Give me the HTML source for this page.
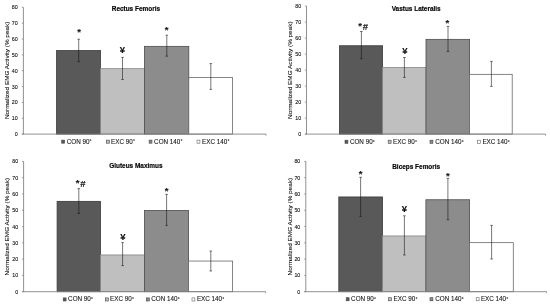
<!DOCTYPE html><html><head><meta charset="utf-8"><title>Normalized EMG Activity</title>
<style>html,body{margin:0;padding:0;background:#fff}svg{display:block;filter:blur(0.3px)}text{font-family:"Liberation Sans", Arial, sans-serif;fill:#111;stroke:#111;stroke-width:0.1px}</style></head><body>
<svg width="550" height="306" viewBox="0 0 550 306">
<rect width="550" height="306" fill="#fff"/>
<g>
<rect x="56.60" y="50.55" width="43.90" height="83.55" fill="#595959" stroke="#3a3a3a" stroke-width="0.8"/>
<rect x="100.50" y="68.65" width="43.90" height="65.45" fill="#bfbfbf" stroke="#858585" stroke-width="0.8"/>
<rect x="144.40" y="46.35" width="44.40" height="87.75" fill="#8c8c8c" stroke="#4d4d4d" stroke-width="0.8"/>
<rect x="188.80" y="77.45" width="43.70" height="56.65" fill="#ffffff" stroke="#686868" stroke-width="0.8"/>
<path d="M78.70 39.20V61.70M77.40 39.20h2.6M77.40 61.70h2.6" stroke="#151515" stroke-width="0.58" fill="none"/>
<path d="M122.50 57.40V79.50M121.20 57.40h2.6M121.20 79.50h2.6" stroke="#151515" stroke-width="0.58" fill="none"/>
<path d="M166.80 35.20V56.20M165.50 35.20h2.6M165.50 56.20h2.6" stroke="#151515" stroke-width="0.58" fill="none"/>
<path d="M210.80 63.60V89.40M209.50 63.60h2.6M209.50 89.40h2.6" stroke="#151515" stroke-width="0.58" fill="none"/>
<path d="M23.40 7.30V134.10M21.80 134.10H266.00" stroke="#858585" stroke-width="0.9" fill="none"/>
<path d="M21.80 134.10h1.6M21.80 118.25h1.6M21.80 102.40h1.6M21.80 86.55h1.6M21.80 70.70h1.6M21.80 54.85h1.6M21.80 39.00h1.6M21.80 23.15h1.6M21.80 7.30h1.6M266.00 134.10v1.6" stroke="#858585" stroke-width="0.8" fill="none"/>
<text transform="translate(17.70 136.15) scale(0.860 1)" font-size="6.20" text-anchor="end">0</text>
<text transform="translate(17.70 120.30) scale(0.860 1)" font-size="6.20" text-anchor="end">10</text>
<text transform="translate(17.70 104.45) scale(0.860 1)" font-size="6.20" text-anchor="end">20</text>
<text transform="translate(17.70 88.60) scale(0.860 1)" font-size="6.20" text-anchor="end">30</text>
<text transform="translate(17.70 72.75) scale(0.860 1)" font-size="6.20" text-anchor="end">40</text>
<text transform="translate(17.70 56.90) scale(0.860 1)" font-size="6.20" text-anchor="end">50</text>
<text transform="translate(17.70 41.05) scale(0.860 1)" font-size="6.20" text-anchor="end">60</text>
<text transform="translate(17.70 25.20) scale(0.860 1)" font-size="6.20" text-anchor="end">70</text>
<text transform="translate(17.70 9.35) scale(0.860 1)" font-size="6.20" text-anchor="end">80</text>
<text transform="translate(8.85 70.40) rotate(-90) scale(1 0.93)" font-size="6.38" text-anchor="middle">Normalized EMG Activity (% peak)</text>
<text x="135.90" y="10.60" font-size="6.45" font-weight="bold" text-anchor="middle" style="fill:#000;stroke:#000;stroke-width:0.15">Rectus Femoris</text>
<text x="79.00" y="35.00" font-size="9.5" font-weight="bold" text-anchor="middle" style="fill:#111">*</text>
<text x="122.40" y="53.20" font-size="9.5" font-weight="bold" text-anchor="middle" style="fill:#111">¥</text>
<text x="166.60" y="33.00" font-size="9.5" font-weight="bold" text-anchor="middle" style="fill:#111">*</text>
<rect x="61.70" y="140.10" width="2.9" height="3.1" fill="#595959" stroke="#444" stroke-width="0.6"/>
<text transform="translate(66.70 143.60) scale(0.81 1)" font-size="7.80">CON 90<tspan font-size="6.2" dy="-0.2" dx="0.2">°</tspan></text>
<rect x="106.40" y="140.10" width="2.9" height="3.1" fill="#bfbfbf" stroke="#444" stroke-width="0.6"/>
<text transform="translate(111.10 143.60) scale(0.81 1)" font-size="7.80">EXC 90<tspan font-size="6.2" dy="-0.2" dx="0.2">°</tspan></text>
<rect x="149.10" y="140.10" width="2.9" height="3.1" fill="#8c8c8c" stroke="#444" stroke-width="0.6"/>
<text transform="translate(154.10 143.60) scale(0.81 1)" font-size="7.80">CON 140<tspan font-size="6.2" dy="-0.2" dx="0.2">°</tspan></text>
<rect x="197.00" y="140.10" width="2.9" height="3.1" fill="#ffffff" stroke="#666" stroke-width="0.6"/>
<text transform="translate(202.00 143.60) scale(0.81 1)" font-size="7.80">EXC 140<tspan font-size="6.2" dy="-0.2" dx="0.2">°</tspan></text>
</g>
<g>
<rect x="339.50" y="45.75" width="43.10" height="88.35" fill="#595959" stroke="#3a3a3a" stroke-width="0.8"/>
<rect x="382.60" y="67.55" width="43.40" height="66.55" fill="#bfbfbf" stroke="#858585" stroke-width="0.8"/>
<rect x="426.00" y="39.35" width="43.60" height="94.75" fill="#8c8c8c" stroke="#4d4d4d" stroke-width="0.8"/>
<rect x="469.60" y="74.35" width="42.60" height="59.75" fill="#ffffff" stroke="#686868" stroke-width="0.8"/>
<path d="M361.40 31.50V58.70M360.10 31.50h2.6M360.10 58.70h2.6" stroke="#151515" stroke-width="0.58" fill="none"/>
<path d="M404.40 57.50V77.40M403.10 57.50h2.6M403.10 77.40h2.6" stroke="#151515" stroke-width="0.58" fill="none"/>
<path d="M448.00 26.40V51.40M446.70 26.40h2.6M446.70 51.40h2.6" stroke="#151515" stroke-width="0.58" fill="none"/>
<path d="M491.40 61.40V86.40M490.10 61.40h2.6M490.10 86.40h2.6" stroke="#151515" stroke-width="0.58" fill="none"/>
<path d="M306.50 6.00V134.10M304.90 134.10H545.60" stroke="#858585" stroke-width="0.9" fill="none"/>
<path d="M304.90 134.10h1.6M304.90 118.09h1.6M304.90 102.07h1.6M304.90 86.06h1.6M304.90 70.05h1.6M304.90 54.04h1.6M304.90 38.03h1.6M304.90 22.01h1.6M304.90 6.00h1.6M545.60 134.10v1.6" stroke="#858585" stroke-width="0.8" fill="none"/>
<text transform="translate(301.10 136.15) scale(0.860 1)" font-size="6.20" text-anchor="end">0</text>
<text transform="translate(301.10 120.14) scale(0.860 1)" font-size="6.20" text-anchor="end">10</text>
<text transform="translate(301.10 104.12) scale(0.860 1)" font-size="6.20" text-anchor="end">20</text>
<text transform="translate(301.10 88.11) scale(0.860 1)" font-size="6.20" text-anchor="end">30</text>
<text transform="translate(301.10 72.10) scale(0.860 1)" font-size="6.20" text-anchor="end">40</text>
<text transform="translate(301.10 56.09) scale(0.860 1)" font-size="6.20" text-anchor="end">50</text>
<text transform="translate(301.10 40.08) scale(0.860 1)" font-size="6.20" text-anchor="end">60</text>
<text transform="translate(301.10 24.06) scale(0.860 1)" font-size="6.20" text-anchor="end">70</text>
<text transform="translate(301.10 8.05) scale(0.860 1)" font-size="6.20" text-anchor="end">80</text>
<text transform="translate(292.05 70.20) rotate(-90) scale(1 0.93)" font-size="6.38" text-anchor="middle">Normalized EMG Activity (% peak)</text>
<text x="416.20" y="10.60" font-size="6.45" font-weight="bold" text-anchor="middle" style="fill:#000;stroke:#000;stroke-width:0.15">Vastus Lateralis</text>
<text x="363.20" y="30.20" font-size="9.5" font-weight="bold" text-anchor="middle" style="fill:#111"><tspan dy="-1.4">*</tspan><tspan dy="1.4" dx="0.9">#</tspan></text>
<text x="404.90" y="53.60" font-size="9.5" font-weight="bold" text-anchor="middle" style="fill:#111">¥</text>
<text x="447.40" y="26.10" font-size="9.5" font-weight="bold" text-anchor="middle" style="fill:#111">*</text>
<rect x="345.00" y="140.20" width="2.9" height="3.1" fill="#595959" stroke="#444" stroke-width="0.6"/>
<text transform="translate(349.90 143.70) scale(0.81 1)" font-size="7.80">CON 90<tspan font-size="6.2" dy="-0.2" dx="0.2">°</tspan></text>
<rect x="388.20" y="140.20" width="2.9" height="3.1" fill="#bfbfbf" stroke="#444" stroke-width="0.6"/>
<text transform="translate(393.10 143.70) scale(0.81 1)" font-size="7.80">EXC 90<tspan font-size="6.2" dy="-0.2" dx="0.2">°</tspan></text>
<rect x="430.00" y="140.20" width="2.9" height="3.1" fill="#8c8c8c" stroke="#444" stroke-width="0.6"/>
<text transform="translate(435.30 143.70) scale(0.81 1)" font-size="7.80">CON 140<tspan font-size="6.2" dy="-0.2" dx="0.2">°</tspan></text>
<rect x="477.60" y="140.20" width="2.9" height="3.1" fill="#ffffff" stroke="#666" stroke-width="0.6"/>
<text transform="translate(482.40 143.70) scale(0.81 1)" font-size="7.80">EXC 140<tspan font-size="6.2" dy="-0.2" dx="0.2">°</tspan></text>
</g>
<g>
<rect x="57.10" y="201.35" width="43.40" height="90.35" fill="#595959" stroke="#3a3a3a" stroke-width="0.8"/>
<rect x="100.50" y="254.95" width="43.90" height="36.75" fill="#bfbfbf" stroke="#858585" stroke-width="0.8"/>
<rect x="144.40" y="210.45" width="44.20" height="81.25" fill="#8c8c8c" stroke="#4d4d4d" stroke-width="0.8"/>
<rect x="188.60" y="261.05" width="44.00" height="30.65" fill="#ffffff" stroke="#686868" stroke-width="0.8"/>
<path d="M78.80 188.60V213.40M77.50 188.60h2.6M77.50 213.40h2.6" stroke="#151515" stroke-width="0.58" fill="none"/>
<path d="M122.60 242.60V265.60M121.30 242.60h2.6M121.30 265.60h2.6" stroke="#151515" stroke-width="0.58" fill="none"/>
<path d="M166.60 194.40V225.40M165.30 194.40h2.6M165.30 225.40h2.6" stroke="#151515" stroke-width="0.58" fill="none"/>
<path d="M210.80 251.00V271.00M209.50 251.00h2.6M209.50 271.00h2.6" stroke="#151515" stroke-width="0.58" fill="none"/>
<path d="M23.60 161.40V291.70M22.00 291.70H265.60" stroke="#858585" stroke-width="0.9" fill="none"/>
<path d="M22.00 291.70h1.6M22.00 275.41h1.6M22.00 259.12h1.6M22.00 242.84h1.6M22.00 226.55h1.6M22.00 210.26h1.6M22.00 193.97h1.6M22.00 177.69h1.6M22.00 161.40h1.6M265.60 291.70v1.6" stroke="#858585" stroke-width="0.8" fill="none"/>
<text transform="translate(18.10 293.75) scale(0.860 1)" font-size="6.20" text-anchor="end">0</text>
<text transform="translate(18.10 277.46) scale(0.860 1)" font-size="6.20" text-anchor="end">10</text>
<text transform="translate(18.10 261.18) scale(0.860 1)" font-size="6.20" text-anchor="end">20</text>
<text transform="translate(18.10 244.89) scale(0.860 1)" font-size="6.20" text-anchor="end">30</text>
<text transform="translate(18.10 228.60) scale(0.860 1)" font-size="6.20" text-anchor="end">40</text>
<text transform="translate(18.10 212.31) scale(0.860 1)" font-size="6.20" text-anchor="end">50</text>
<text transform="translate(18.10 196.03) scale(0.860 1)" font-size="6.20" text-anchor="end">60</text>
<text transform="translate(18.10 179.74) scale(0.860 1)" font-size="6.20" text-anchor="end">70</text>
<text transform="translate(18.10 163.45) scale(0.860 1)" font-size="6.20" text-anchor="end">80</text>
<text transform="translate(9.05 226.70) rotate(-90) scale(1 0.93)" font-size="6.38" text-anchor="middle">Normalized EMG Activity (% peak)</text>
<text x="135.90" y="168.30" font-size="6.45" font-weight="bold" text-anchor="middle" style="fill:#000;stroke:#000;stroke-width:0.15">Gluteus Maximus</text>
<text x="80.60" y="187.00" font-size="9.5" font-weight="bold" text-anchor="middle" style="fill:#111"><tspan dy="-1.4">*</tspan><tspan dy="1.4" dx="0.9">#</tspan></text>
<text x="122.80" y="239.80" font-size="9.5" font-weight="bold" text-anchor="middle" style="fill:#111">¥</text>
<text x="166.70" y="193.70" font-size="9.5" font-weight="bold" text-anchor="middle" style="fill:#111">*</text>
<rect x="63.20" y="297.90" width="2.9" height="3.1" fill="#595959" stroke="#444" stroke-width="0.6"/>
<text transform="translate(68.10 301.40) scale(0.81 1)" font-size="7.80">CON 90<tspan font-size="6.2" dy="-0.2" dx="0.2">°</tspan></text>
<rect x="105.40" y="297.90" width="2.9" height="3.1" fill="#bfbfbf" stroke="#444" stroke-width="0.6"/>
<text transform="translate(110.10 301.40) scale(0.81 1)" font-size="7.80">EXC 90<tspan font-size="6.2" dy="-0.2" dx="0.2">°</tspan></text>
<rect x="146.40" y="297.90" width="2.9" height="3.1" fill="#8c8c8c" stroke="#444" stroke-width="0.6"/>
<text transform="translate(151.30 301.40) scale(0.81 1)" font-size="7.80">CON 140<tspan font-size="6.2" dy="-0.2" dx="0.2">°</tspan></text>
<rect x="192.00" y="297.90" width="2.9" height="3.1" fill="#ffffff" stroke="#666" stroke-width="0.6"/>
<text transform="translate(196.90 301.40) scale(0.81 1)" font-size="7.80">EXC 140<tspan font-size="6.2" dy="-0.2" dx="0.2">°</tspan></text>
</g>
<g>
<rect x="338.80" y="196.95" width="43.70" height="94.75" fill="#595959" stroke="#3a3a3a" stroke-width="0.8"/>
<rect x="382.50" y="235.95" width="43.40" height="55.75" fill="#bfbfbf" stroke="#858585" stroke-width="0.8"/>
<rect x="425.90" y="199.75" width="43.70" height="91.95" fill="#8c8c8c" stroke="#4d4d4d" stroke-width="0.8"/>
<rect x="469.60" y="242.65" width="43.70" height="49.05" fill="#ffffff" stroke="#686868" stroke-width="0.8"/>
<path d="M360.60 177.30V216.40M359.30 177.30h2.6M359.30 216.40h2.6" stroke="#151515" stroke-width="0.58" fill="none"/>
<path d="M404.40 215.80V255.00M403.10 215.80h2.6M403.10 255.00h2.6" stroke="#151515" stroke-width="0.58" fill="none"/>
<path d="M447.90 178.40V219.80M446.60 178.40h2.6M446.60 219.80h2.6" stroke="#151515" stroke-width="0.58" fill="none"/>
<path d="M491.60 225.40V259.00M490.30 225.40h2.6M490.30 259.00h2.6" stroke="#151515" stroke-width="0.58" fill="none"/>
<path d="M305.80 161.40V291.70M304.20 291.70H546.60" stroke="#858585" stroke-width="0.9" fill="none"/>
<path d="M304.20 291.70h1.6M304.20 275.41h1.6M304.20 259.12h1.6M304.20 242.84h1.6M304.20 226.55h1.6M304.20 210.26h1.6M304.20 193.97h1.6M304.20 177.69h1.6M304.20 161.40h1.6M546.60 291.70v1.6" stroke="#858585" stroke-width="0.8" fill="none"/>
<text transform="translate(300.30 293.75) scale(0.860 1)" font-size="6.20" text-anchor="end">0</text>
<text transform="translate(300.30 277.46) scale(0.860 1)" font-size="6.20" text-anchor="end">10</text>
<text transform="translate(300.30 261.18) scale(0.860 1)" font-size="6.20" text-anchor="end">20</text>
<text transform="translate(300.30 244.89) scale(0.860 1)" font-size="6.20" text-anchor="end">30</text>
<text transform="translate(300.30 228.60) scale(0.860 1)" font-size="6.20" text-anchor="end">40</text>
<text transform="translate(300.30 212.31) scale(0.860 1)" font-size="6.20" text-anchor="end">50</text>
<text transform="translate(300.30 196.03) scale(0.860 1)" font-size="6.20" text-anchor="end">60</text>
<text transform="translate(300.30 179.74) scale(0.860 1)" font-size="6.20" text-anchor="end">70</text>
<text transform="translate(300.30 163.45) scale(0.860 1)" font-size="6.20" text-anchor="end">80</text>
<text transform="translate(291.85 226.70) rotate(-90) scale(1 0.93)" font-size="6.38" text-anchor="middle">Normalized EMG Activity (% peak)</text>
<text x="416.20" y="169.00" font-size="6.45" font-weight="bold" text-anchor="middle" style="fill:#000;stroke:#000;stroke-width:0.15">Biceps Femoris</text>
<text x="360.60" y="177.10" font-size="9.5" font-weight="bold" text-anchor="middle" style="fill:#111">*</text>
<text x="404.50" y="212.30" font-size="9.5" font-weight="bold" text-anchor="middle" style="fill:#111">¥</text>
<text x="447.80" y="178.60" font-size="9.5" font-weight="bold" text-anchor="middle" style="fill:#111">*</text>
<rect x="346.20" y="297.70" width="2.9" height="3.1" fill="#595959" stroke="#444" stroke-width="0.6"/>
<text transform="translate(351.10 301.20) scale(0.81 1)" font-size="7.80">CON 90<tspan font-size="6.2" dy="-0.2" dx="0.2">°</tspan></text>
<rect x="388.60" y="297.70" width="2.9" height="3.1" fill="#bfbfbf" stroke="#444" stroke-width="0.6"/>
<text transform="translate(393.50 301.20) scale(0.81 1)" font-size="7.80">EXC 90<tspan font-size="6.2" dy="-0.2" dx="0.2">°</tspan></text>
<rect x="430.00" y="297.70" width="2.9" height="3.1" fill="#8c8c8c" stroke="#444" stroke-width="0.6"/>
<text transform="translate(435.30 301.20) scale(0.81 1)" font-size="7.80">CON 140<tspan font-size="6.2" dy="-0.2" dx="0.2">°</tspan></text>
<rect x="476.20" y="297.70" width="2.9" height="3.1" fill="#ffffff" stroke="#666" stroke-width="0.6"/>
<text transform="translate(480.90 301.20) scale(0.81 1)" font-size="7.80">EXC 140<tspan font-size="6.2" dy="-0.2" dx="0.2">°</tspan></text>
</g>
</svg></body></html>
